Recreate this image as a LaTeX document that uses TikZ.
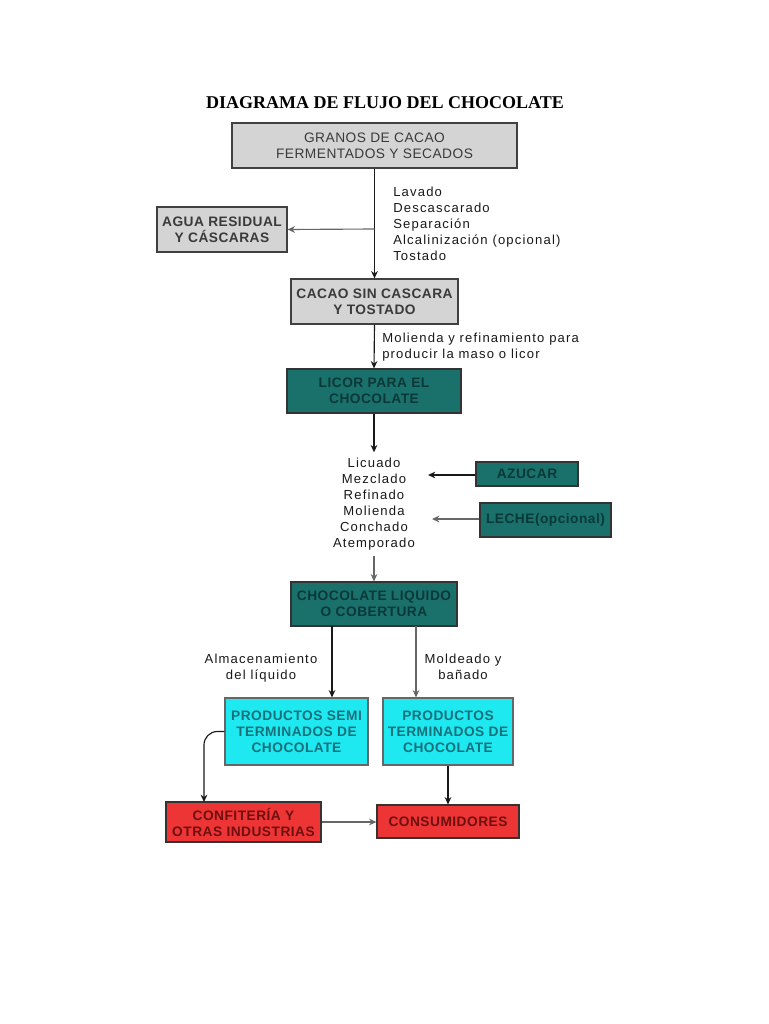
\documentclass[tikz,border=0pt]{standalone}
\usepackage{fontspec}
\setmainfont{Liberation Sans}
\newfontfamily\titlefont{Liberation Serif}
\newfontfamily\boxfont[LetterSpace=3.5]{Liberation Sans}
\newfontfamily\lblfont[LetterSpace=9]{Liberation Sans}
\usetikzlibrary{arrows.meta}
\definecolor{grayfill}{HTML}{D4D4D4}
\definecolor{graytext}{HTML}{3A3A3A}
\definecolor{tealfill}{HTML}{1A716C}
\definecolor{tealtext}{HTML}{0B3838}
\definecolor{cyanfill}{HTML}{1EE8F0}
\definecolor{cyantext}{HTML}{17707A}
\definecolor{redfill}{HTML}{EE3535}
\definecolor{redtext}{HTML}{6E1010}
\tikzset{
  boxbase/.style={draw=black!75, line width=0.9pt, align=center, inner sep=1pt,
    font=\boxfont\fontsize{10.3}{12}\selectfont\bfseries},
  graybox/.style={boxbase, fill=grayfill, text=graytext},
  tealbox/.style={boxbase, fill=tealfill, text=tealtext, draw=black!80},
  cyanbox/.style={boxbase, fill=cyanfill, text=cyantext, draw=black!60},
  redbox/.style={boxbase, fill=redfill, text=redtext, draw=black!80},
  lbl/.style={font=\lblfont\fontsize{9.8}{12}\selectfont, inner sep=0pt, text=black!90},
  arr/.style={draw=black!90, line width=0.85pt, -{Stealth[length=5.5pt,width=5pt]}},
  garr/.style={arr, draw=black!60},
}
\begin{document}
\begin{tikzpicture}[x=0.75pt,y=-0.75pt]
\useasboundingbox (0,0) rectangle (768,1024);
\fill[white] (0,0) rectangle (768,1024);

\node[font=\titlefont\fontsize{13.5}{15}\selectfont\bfseries] (title) at (385,103) {DIAGRAMA DE FLUJO DEL CHOCOLATE};

\node[graybox, minimum width=213.75pt, minimum height=33.75pt, font=\boxfont\fontsize{10.3}{12}\selectfont] (granos) at (374.5,145.5) {GRANOS DE CACAO\\FERMENTADOS Y SECADOS};
\node[graybox, minimum width=97.5pt, minimum height=33.75pt] (agua) at (222,229.5) {AGUA RESIDUAL\\Y CÁSCARAS};
\node[graybox, minimum width=125.25pt, minimum height=33.75pt] (cacao) at (374.5,301.5) {CACAO SIN CASCARA\\Y TOSTADO};
\node[tealbox, minimum width=130.5pt, minimum height=33pt] (licor) at (374,391) {LICOR PARA EL\\CHOCOLATE};
\node[tealbox, minimum width=76.5pt, minimum height=18pt] (azucar) at (527,474) {AZUCAR};
\node[tealbox, minimum width=98.25pt, minimum height=25.5pt] (leche) at (545.5,520) {LECHE(opcional)};
\node[tealbox, minimum width=124.5pt, minimum height=33pt] (liquido) at (374,604) {CHOCOLATE LIQUIDO\\O COBERTURA};
\node[cyanbox, minimum width=107.25pt, minimum height=50.25pt] (semi) at (296.5,731.5) {PRODUCTOS SEMI\\TERMINADOS DE\\CHOCOLATE};
\node[cyanbox, minimum width=97.5pt, minimum height=50.25pt] (term) at (448,731.5) {PRODUCTOS\\TERMINADOS DE\\CHOCOLATE};
\node[redbox, minimum width=116.25pt, minimum height=30pt] (conf) at (243.5,822) {CONFITERÍA Y\\OTRAS INDUSTRIAS};
\node[redbox, minimum width=106.5pt, minimum height=24.75pt] (cons) at (448,821.5) {CONSUMIDORES};

% labels
\node[lbl, align=left, anchor=north west] (pasos1) at (393,187) {Lavado\\Descascarado\\Separación\\Alcalinización (opcional)\\Tostado};
\node[lbl, align=left, anchor=west] (pasos2) at (382,347) {Molienda y refinamiento para\\producir la maso o licor};
\node[lbl, align=center, inner sep=4pt] (proc) at (374,504) {Licuado\\Mezclado\\Refinado\\Molienda\\Conchado\\Atemporado};
\node[lbl, align=center] (alm) at (261,668) {Almacenamiento\\del líquido};
\node[lbl, align=center] (mold) at (463,667) {Moldeado y\\bañado};

% coordinates
\coordinate (branch) at (374.5,229);
\coordinate (azend) at (428,475);
\coordinate (leend) at (432,519);
\coordinate (l1) at (332,626);
\coordinate (l2) at (416,626);
\coordinate (c1) at (204,802);

% connectors
\draw[arr] (granos.south) -- (cacao.north);
\draw[garr] (branch) -- (agua.east);
\draw[arr] (cacao.south) -- (licor.north);
\draw[arr] (licor.south) -- (proc.north);
\draw[arr, line width=1.1pt] (azucar.west |- azend) -- (azend);
\draw[garr, line width=1pt] (leche.west |- leend) -- (leend);
\draw[garr] (proc.south) -- (liquido.north);
\draw[arr, line width=1.3pt] (l1) -- (l1 |- semi.north);
\draw[garr, line width=0.9pt] (l2) -- (l2 |- term.north);
\draw[arr, rounded corners=10pt] (semi.west) -| (c1);
\draw[garr, line width=0.9pt] (conf.east) -- (conf.east -| cons.west);
\draw[arr] (term.south) -- (cons.north);
\end{tikzpicture}
\end{document}
